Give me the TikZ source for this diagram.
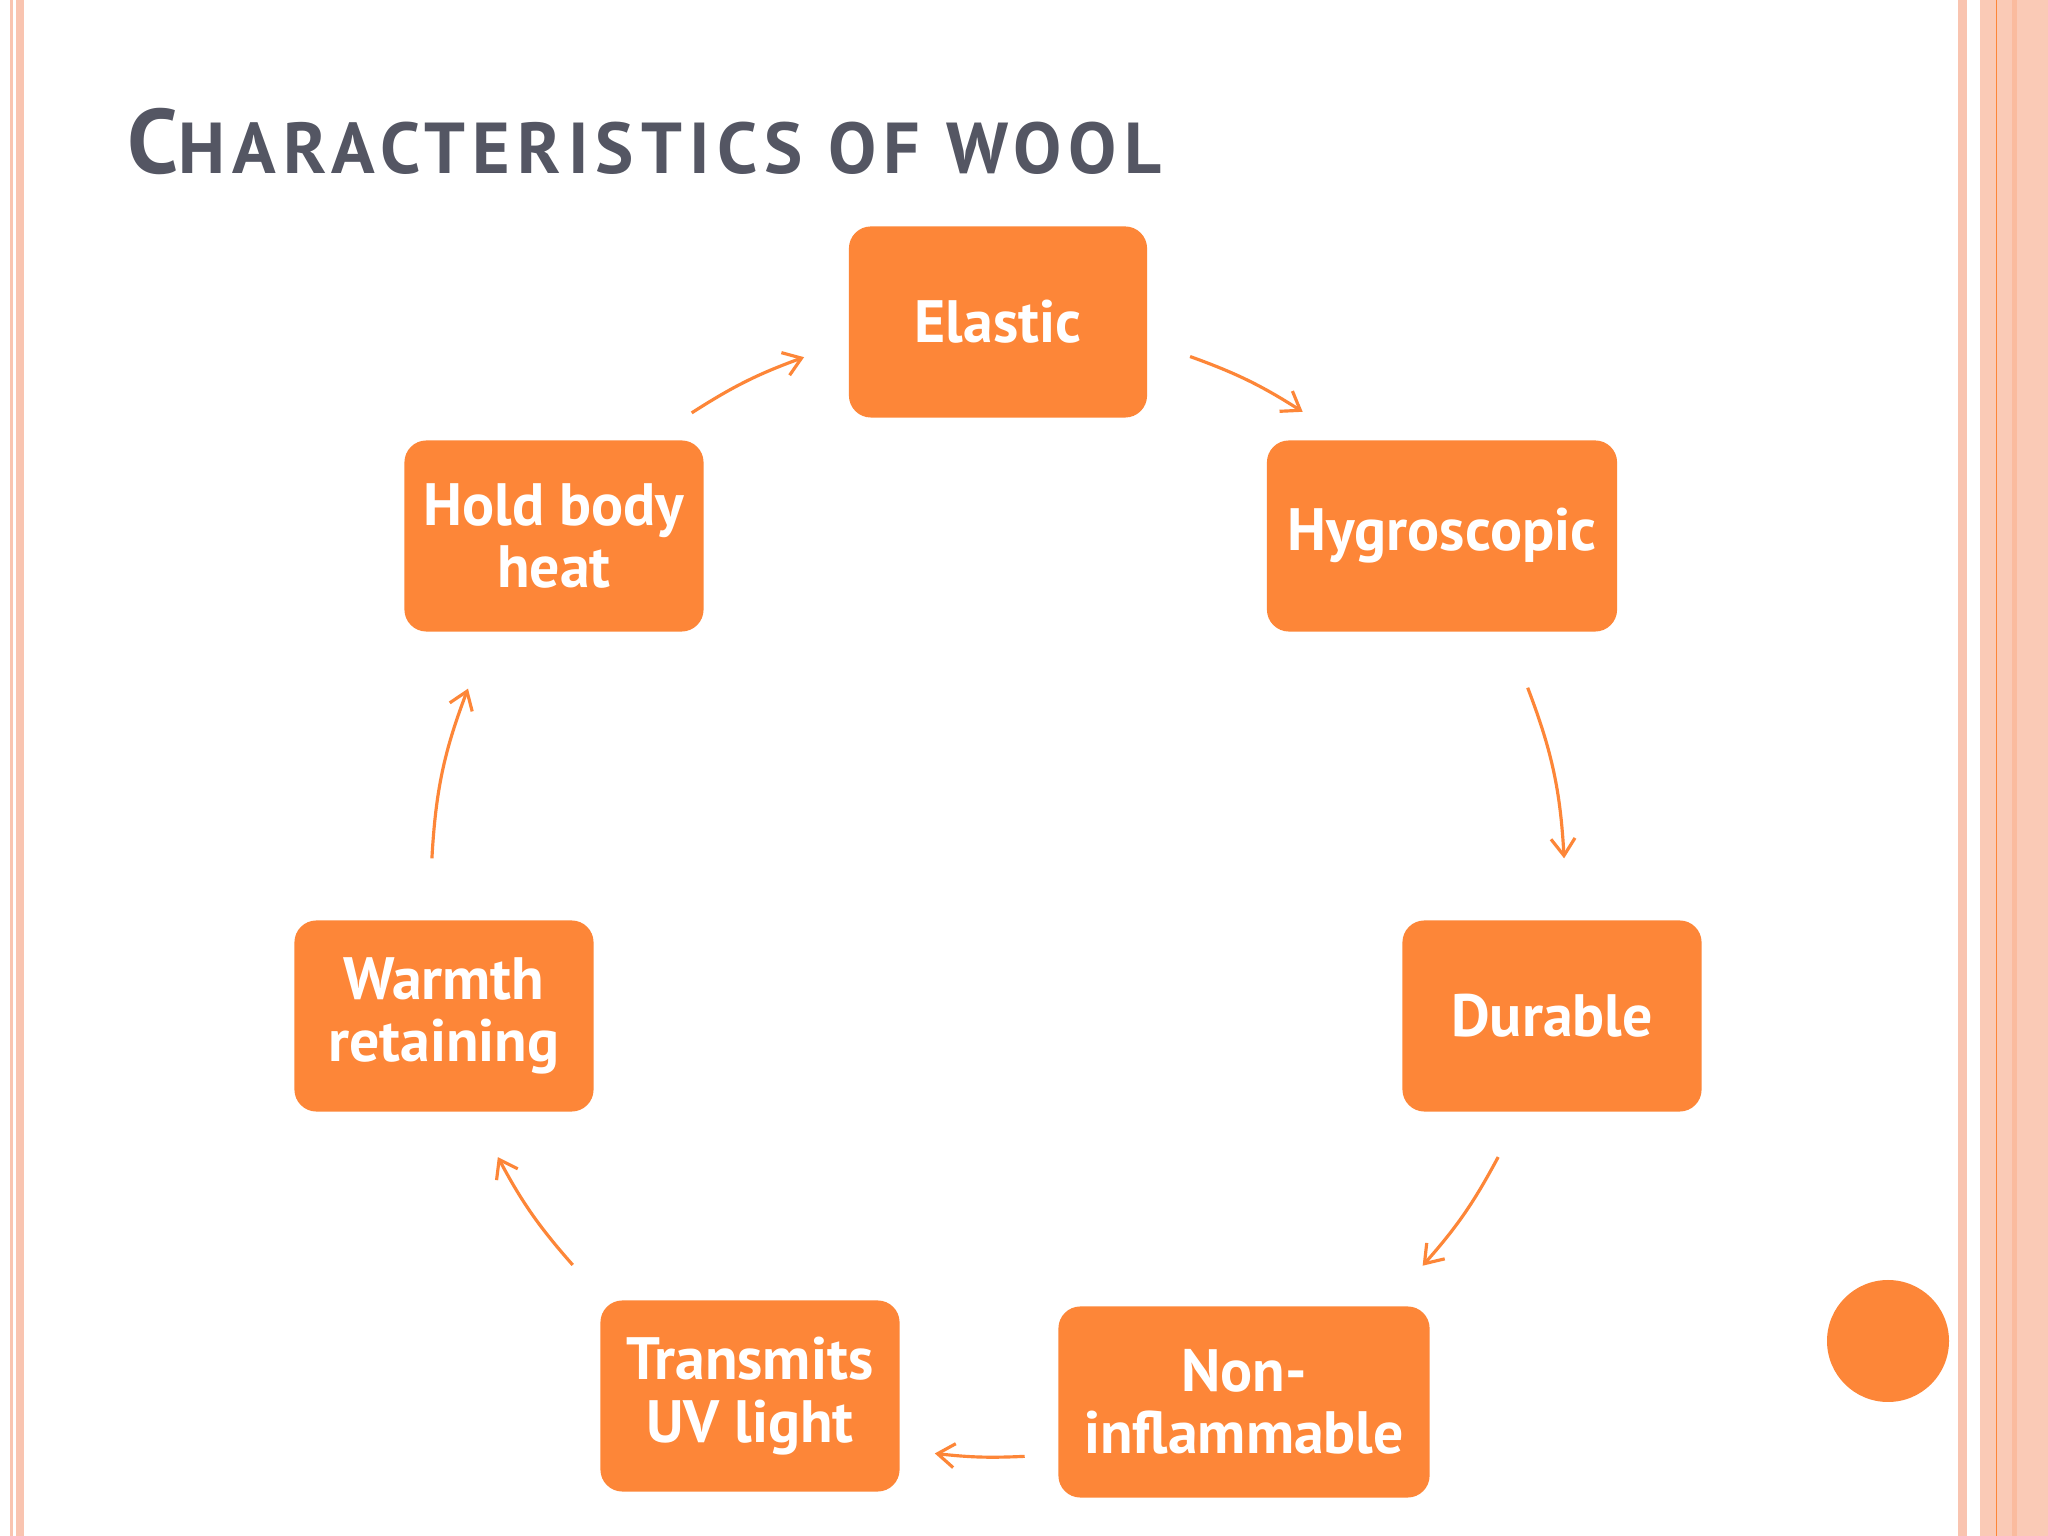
\documentclass[tikz,border=0pt]{standalone}
\usepackage{fontspec}
\setmainfont{PT Sans}
\usetikzlibrary{arrows.meta}
\definecolor{woolorange}{RGB}{253,134,56}
\definecolor{stripe}{RGB}{249,196,176}
\definecolor{peach}{RGB}{250,202,182}
\definecolor{titlegrey}{RGB}{84,86,99}
\tikzset{
trait/.style={fill=woolorange,rounded corners=0.22cm,text=white,align=center,
  font=\fontsize{17}{17.8}\selectfont\bfseries,minimum height=1.91cm,inner sep=0pt},
cycarrow/.style={draw=woolorange,line width=0.9pt,-{Straight Barb[length=1.7mm,width=2.4mm]}}
}
\begin{document}
\begin{tikzpicture}[x=0.01cm,y=0.01cm]
\useasboundingbox (0,0) rectangle (2048,1536);
\fill[white] (0,0) rectangle (2048,1536);
\fill[stripe] (10,0) rectangle (13,1536);
\fill[stripe] (16,0) rectangle (24,1536);
\fill[stripe] (1958,0) rectangle (1967,1536);
\fill[peach] (1980,0) rectangle (2048,1536);
\fill[stripe!85!woolorange] (2012,0) rectangle (2017,1536);
\draw[woolorange,line width=0.5pt] (1996.5,0) -- (1996.5,1536);
\node[anchor=base west,text=titlegrey,inner sep=0pt,font=\bfseries\addfontfeatures{LetterSpace=10}] (title) at (127,1362)
  {{\fontsize{26}{26}\selectfont C}{\fontsize{20.5}{20.5}\selectfont HARACTERISTICS OF WOOL}};
\node[trait,minimum width=2.98cm] (elastic) at (998,1214) {Elastic};
\node[trait,minimum width=3.50cm] (hygro) at (1442,1000) {Hygroscopic};
\node[trait,minimum width=2.99cm] (durable) at (1552,520) {Durable};
\node[trait,minimum width=3.71cm] (nonflam) at (1244,134) {Non-\\inflammable};
\node[trait,minimum width=2.99cm] (uvlight) at (750,140) {Transmits\\UV light};
\node[trait,minimum width=2.99cm] (warmth) at (444,520) {Warmth\\retaining};
\node[trait,minimum width=2.99cm] (bodyheat) at (554,1000) {Hold body\\heat};
\fill[woolorange] (1888,195) circle (61);
\coordinate (ctr) at (998,646);
\foreach \n/\a/\b in {1/122.7/110,2/70.2/57.5,3/20.9/3.2,4/-28.1/-41.5,5/-87.3/-96.4,6/-138.6/-151.9,7/176.8/159.2}{
\pgfmathsetmacro{\bend}{(\a-\b)/2}
\path (ctr) ++(\a:567) coordinate (s\n) (ctr) ++(\b:567) coordinate (e\n);
\draw[cycarrow] (s\n) to[bend left=\bend] (e\n);
}
\end{tikzpicture}
\end{document}
